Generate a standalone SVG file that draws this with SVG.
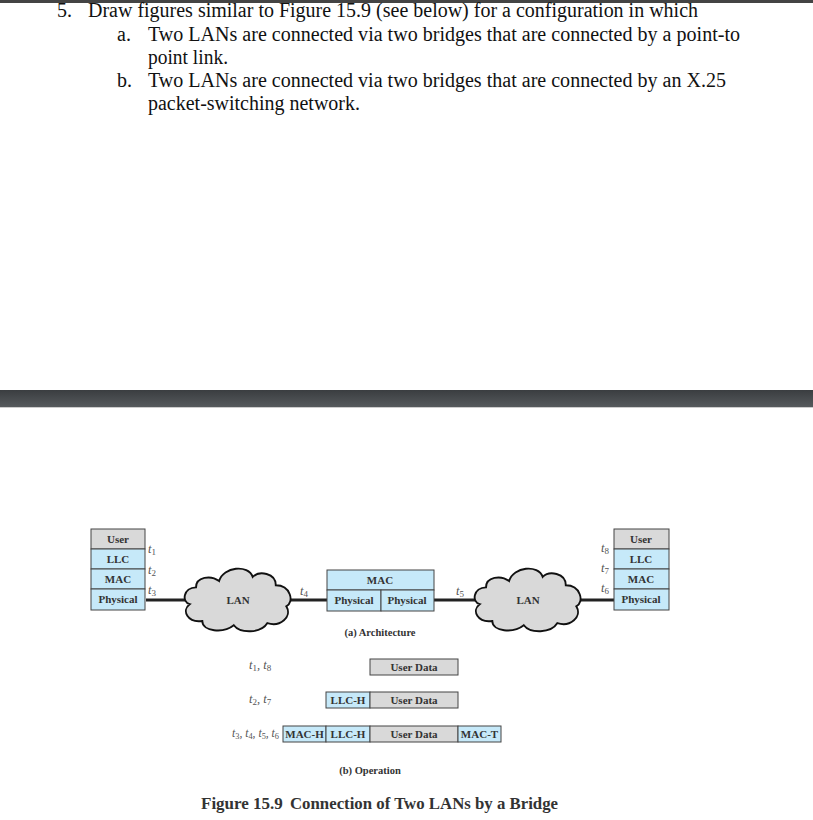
<svg xmlns="http://www.w3.org/2000/svg" width="813" height="820" viewBox="0 0 813 820">
<style>
.hd{font-family:"Liberation Serif","Times New Roman",serif;font-size:20px;fill:#111}
.lb{font-family:"Liberation Serif","Times New Roman",serif;font-size:11px;font-weight:bold;fill:#333;text-anchor:middle}
.t{font-family:"Liberation Serif","Times New Roman",serif;font-size:12.5px;font-style:italic;fill:#555}
.s{font-size:9px;font-style:normal}
.cap{font-family:"Liberation Serif","Times New Roman",serif;font-size:10.5px;font-weight:bold;fill:#333;text-anchor:middle}
.fig{font-family:"Liberation Serif","Times New Roman",serif;font-size:17px;font-weight:bold;fill:#333}
.g{fill:#d9d9d9;stroke:#444;stroke-width:1}
.b{fill:#c6e9f9;stroke:#444;stroke-width:1}
.lnk{stroke:#222;stroke-width:3;fill:none}
.cloud{fill:#d9d9d9;stroke:#111;stroke-width:1.8}
</style>
<defs>
<linearGradient id="bar" x1="0" y1="0" x2="0" y2="1">
<stop offset="0" stop-color="#3a3d40"/>
<stop offset="1" stop-color="#565a5d"/>
</linearGradient>
<path id="cl" d="M -46,4 C -54,2 -52,-12 -40,-12 C -40,-22 -26,-24 -18,-18 C -14,-32 10,-34 14,-22 C 20,-28 36,-26 36,-14 C 50,-14 54,2 46,6 C 52,16 40,26 28,22 C 22,32 2,32 -4,24 C -14,32 -34,30 -34,20 C -48,22 -54,10 -46,4 Z"/>
</defs>
<rect x="0" y="0" width="813" height="820" fill="#fff"/>
<rect x="0" y="0" width="813" height="3" fill="#444"/>
<g id="question">
<text class="hd" x="57" y="17">5.</text>
<text class="hd" x="88" y="17" textLength="610" lengthAdjust="spacingAndGlyphs">Draw figures similar to Figure 15.9 (see below) for a configuration in which</text>
<text class="hd" x="117" y="41">a.</text>
<text class="hd" x="148" y="41" textLength="592" lengthAdjust="spacingAndGlyphs">Two LANs are connected via two bridges that are connected by a point-to</text>
<text class="hd" x="148" y="64" textLength="80" lengthAdjust="spacingAndGlyphs">point link.</text>
<text class="hd" x="117" y="87">b.</text>
<text class="hd" x="148" y="87" textLength="578" lengthAdjust="spacingAndGlyphs">Two LANs are connected via two bridges that are connected by an X.25</text>
<text class="hd" x="148" y="110" textLength="212" lengthAdjust="spacingAndGlyphs">packet-switching network.</text>
</g>
<rect x="0" y="390" width="813" height="17" fill="url(#bar)"/>
<rect x="0" y="407" width="813" height="1" fill="#ccc"/>
<g id="connectors">
<line class="lnk" x1="146" y1="600" x2="190" y2="600"/>
<line class="lnk" x1="286" y1="600" x2="327" y2="600"/>
<line class="lnk" x1="434" y1="600" x2="480" y2="600"/>
<line class="lnk" x1="576" y1="600" x2="614" y2="600"/>
</g>
<g id="left-stack">
<rect class="g" x="91" y="529" width="54" height="20"/>
<rect class="b" x="91" y="549" width="54" height="20"/>
<rect class="b" x="91" y="569" width="54" height="20"/>
<rect class="b" x="91" y="589" width="54" height="21"/>
<text class="lb" x="118" y="543">User</text>
<text class="lb" x="118" y="563">LLC</text>
<text class="lb" x="118" y="583">MAC</text>
<text class="lb" x="118" y="603">Physical</text>
<text class="t" x="148" y="553">t<tspan class="s" dy="2">1</tspan></text>
<text class="t" x="148" y="574">t<tspan class="s" dy="2">2</tspan></text>
<text class="t" x="148" y="594">t<tspan class="s" dy="2">3</tspan></text>
</g>
<g id="lan1">
<use href="#cl" class="cloud" transform="translate(238,600) scale(1.05)"/>
<text class="lb" x="238" y="604" font-size="12">LAN</text>
</g>
<g id="bridge">
<rect class="b" x="327" y="570" width="107" height="20"/>
<rect class="b" x="327" y="590" width="54" height="21"/>
<rect class="b" x="381" y="590" width="53" height="21"/>
<text class="lb" x="380" y="584">MAC</text>
<text class="lb" x="354" y="604">Physical</text>
<text class="lb" x="407" y="604">Physical</text>
<text class="t" x="300" y="595">t<tspan class="s" dy="2">4</tspan></text>
<text class="t" x="456" y="595">t<tspan class="s" dy="2">5</tspan></text>
</g>
<g id="lan2">
<use href="#cl" class="cloud" transform="translate(528,600) scale(1.05)"/>
<text class="lb" x="528" y="604" font-size="12">LAN</text>
</g>
<g id="right-stack">
<rect class="g" x="614" y="529" width="55" height="20"/>
<rect class="b" x="614" y="549" width="55" height="20"/>
<rect class="b" x="614" y="569" width="55" height="20"/>
<rect class="b" x="614" y="589" width="55" height="21"/>
<text class="lb" x="641" y="543">User</text>
<text class="lb" x="641" y="563">LLC</text>
<text class="lb" x="641" y="583">MAC</text>
<text class="lb" x="641" y="603">Physical</text>
<text class="t" x="601" y="552">t<tspan class="s" dy="2">8</tspan></text>
<text class="t" x="601" y="572">t<tspan class="s" dy="2">7</tspan></text>
<text class="t" x="601" y="592">t<tspan class="s" dy="2">6</tspan></text>
</g>
<text class="cap" x="380" y="636">(a) Architecture</text>
<g id="op-row1">
<text class="t" x="249" y="669">t<tspan class="s" dy="2">1</tspan><tspan dy="-2">, t</tspan><tspan class="s" dy="2">8</tspan></text>
<rect class="g" x="370" y="659" width="88" height="16"/>
<text class="lb" x="414" y="671">User Data</text>
</g>
<g id="op-row2">
<text class="t" x="249" y="703">t<tspan class="s" dy="2">2</tspan><tspan dy="-2">, t</tspan><tspan class="s" dy="2">7</tspan></text>
<rect class="b" x="326" y="692" width="44" height="16"/>
<rect class="g" x="370" y="692" width="88" height="16"/>
<text class="lb" x="348" y="704">LLC-H</text>
<text class="lb" x="414" y="704">User Data</text>
</g>
<g id="op-row3">
<text class="t" x="232" y="737" textLength="47" lengthAdjust="spacingAndGlyphs">t<tspan class="s" dy="2">3</tspan><tspan dy="-2">, t</tspan><tspan class="s" dy="2">4</tspan><tspan dy="-2">, t</tspan><tspan class="s" dy="2">5</tspan><tspan dy="-2">, t</tspan><tspan class="s" dy="2">6</tspan></text>
<rect class="b" x="283" y="726" width="43" height="16"/>
<rect class="b" x="326" y="726" width="44" height="16"/>
<rect class="g" x="370" y="726" width="88" height="16"/>
<rect class="b" x="458" y="726" width="43" height="16"/>
<text class="lb" x="304.5" y="738">MAC-H</text>
<text class="lb" x="348" y="738">LLC-H</text>
<text class="lb" x="414" y="738">User Data</text>
<text class="lb" x="479.5" y="738">MAC-T</text>
</g>
<text class="cap" x="370" y="774">(b) Operation</text>
<text class="fig" x="201" y="809">Figure 15.9</text>
<text class="fig" x="290" y="809" textLength="268" lengthAdjust="spacingAndGlyphs">Connection of Two LANs by a Bridge</text>
</svg>
